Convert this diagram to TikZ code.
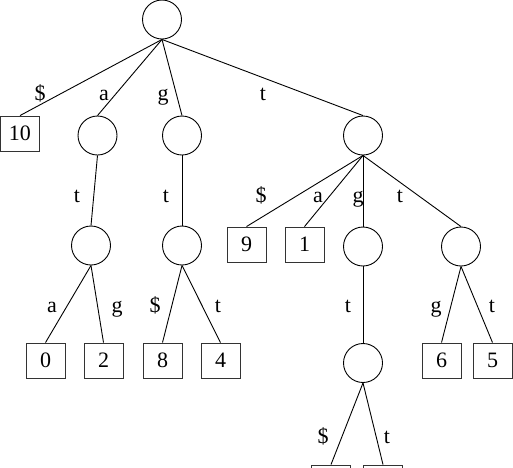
\documentclass[tikz,border=0pt]{standalone}
\usepackage{fontspec}
\setmainfont{Liberation Serif}
\usepackage{tikz}
\usetikzlibrary{positioning}
\tikzset{
	inner/.style  ={circle, draw=black, line width=0.9pt, minimum size=39pt, inner sep=0pt},
	leaf/.style   ={rectangle, draw=black!80, line width=0.9pt, minimum width=39pt, minimum height=35pt, inner sep=0pt},
	edge/.style   ={line width=0.9pt},
	lbl/.style    ={anchor=base, inner sep=0pt},
}

\begin{document}
\begin{tikzpicture}[x=1pt, y=-1pt, every node/.style={font=\fontsize{22}{25}\selectfont}]
	\useasboundingbox (0,0) rectangle (513,467);
	\clip (0,0) rectangle (513,467);
	% tree nodes
	\node[inner] (root) at (162,19.5) {};
	\node[leaf]  (l10)  at (20,133.5) {10};
	\node[inner] (na)   at (97.5,135.5) {};
	\node[inner] (ng)   at (182,135.5) {};
	\node[inner] (nt)   at (363,135.5) {};
	\node[inner] (nat)  at (91,245.5) {};
	\node[inner] (ngt)  at (182,245.5) {};
	\node[leaf]  (l9)   at (246.5,244.5) {9};
	\node[leaf]  (l1)   at (304.5,244.5) {1};
	\node[inner] (ntg)  at (363,246.5) {};
	\node[inner] (ntt)  at (461,246.5) {};
	\node[leaf]  (l0)   at (45.5,360.5) {0};
	\node[leaf]  (l2)   at (103.5,360.5) {2};
	\node[leaf]  (l8)   at (162.5,360.5) {8};
	\node[leaf]  (l4)   at (220.5,360.5) {4};
	\node[inner] (ntgt) at (363,363) {};
	\node[leaf]  (l6)   at (441.5,360.5) {6};
	\node[leaf]  (l5)   at (492.5,360.5) {5};
	\node[leaf]  (lx)   at (331,482.5) {};
	\node[leaf]  (ly)   at (383,482.5) {};
	% edges
	\draw[edge] (root.south) -- (l10.north);
	\draw[edge] (root.south) -- (na.north);
	\draw[edge] (root.south) -- (ng.north);
	\draw[edge] (root.south) -- (nt.north);
	\draw[edge] (na.south) -- (nat.north);
	\draw[edge] (ng.south) -- (ngt.north);
	\draw[edge] (nt.south) -- (l9.north);
	\draw[edge] (nt.south) -- (l1.north);
	\draw[edge] (nt.south) -- (ntg.north);
	\draw[edge] (nt.south) -- (ntt.north);
	\draw[edge] (nat.south) -- (l0.north);
	\draw[edge] (nat.south) -- (l2.north);
	\draw[edge] (ngt.south) -- (l8.north);
	\draw[edge] (ngt.south) -- (l4.north);
	\draw[edge] (ntg.south) -- (ntgt.north);
	\draw[edge] (ntt.south) -- (l6.north);
	\draw[edge] (ntt.south) -- (l5.north);
	\draw[edge] (ntgt.south) -- (lx.north);
	\draw[edge] (ntgt.south) -- (ly.north);
	% edge labels
	\node[lbl] (e1)  at (40,100)  {\$};
	\node[lbl] (e2)  at (104,100) {a};
	\node[lbl] (e3)  at (163,100) {g};
	\node[lbl] (e4)  at (263,100) {t};
	\node[lbl] (e5)  at (77,202)  {t};
	\node[lbl] (e6)  at (166,202) {t};
	\node[lbl] (e7)  at (261,202) {\$};
	\node[lbl] (e8)  at (318,202) {a};
	\node[lbl] (e9)  at (358,202) {g};
	\node[lbl] (e10) at (400,202) {t};
	\node[lbl] (e11) at (52,312)  {a};
	\node[lbl] (e12) at (117,312) {g};
	\node[lbl] (e13) at (155,312) {\$};
	\node[lbl] (e14) at (218,312) {t};
	\node[lbl] (e15) at (348,312) {t};
	\node[lbl] (e16) at (436,312) {g};
	\node[lbl] (e17) at (492,312) {t};
	\node[lbl] (e18) at (323,443) {\$};
	\node[lbl] (e19) at (387,443) {t};
\end{tikzpicture}
\end{document}
